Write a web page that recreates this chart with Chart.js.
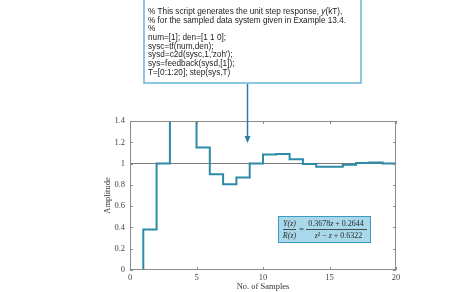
<!DOCTYPE html>
<html>
<head>
<meta charset="utf-8">
<script src="https://cdn.jsdelivr.net/npm/chart.js@4.4.1/dist/chart.umd.min.js"></script>
<style>
  html, body { margin: 0; padding: 0; background: #fff; }
  #wrap { width: 474px; height: 292px; position: relative; }
</style>
</head>
<body>
<div id="wrap"><canvas id="stepChart"></canvas></div>
<script>
// sample index k and step response y(kT)
const samples = [0, 1, 2, 3, 4, 5, 6, 7, 8, 9, 10, 11, 12, 13, 14, 15, 16, 17, 18, 19, 20];
const amplitude = [0, 0.38, 1.0, 1.4, 1.4, 1.15, 0.9, 0.805, 0.87, 1.0, 1.085, 1.09, 1.04, 0.995, 0.97, 0.97, 0.99, 1.005, 1.01, 1.0, 1.0];
const xTicks = [0, 5, 10, 15, 20];
const yTicks = [0, 0.2, 0.4, 0.6, 0.8, 1.0, 1.2, 1.4];
const scriptLines = [
  "% This script generates the unit step response, y(kT),",
  "% for the sampled data system given in Example 13.4.",
  "%",
  "num=[1]; den=[1 1 0];",
  "sysc=tf(num,den);",
  "sysd=c2d(sysc,1,'zoh');",
  "sys=feedback(sysd,[1]);",
  "T=[0:1:20]; step(sys,T)"
];
const numerator = [["0.3678", false], ["z", true], [" + 0.2644", false]];
const denominator = [["z", true], ["\u00B2 \u2212 ", false], ["z", true], [" + 0.6322", false]];

const lineColor = "#2b8ba8";
const frameColor = "#8c8c8c";
const serif = '"Liberation Serif", "DejaVu Serif", serif';
const sans = '"Liberation Sans", Arial, sans-serif';

function drawRich(ctx, segments, cx, y, size) {
  const fontFor = italic => `${italic ? "italic " : ""}${size}px ${serif}`;
  let total = 0;
  segments.forEach(([text, italic]) => {
    ctx.font = fontFor(italic);
    total += ctx.measureText(text).width;
  });
  let x = cx - total / 2;
  ctx.textAlign = "left";
  segments.forEach(([text, italic]) => {
    ctx.font = fontFor(italic);
    ctx.fillText(text, x, y);
    x += ctx.measureText(text).width;
  });
}

const notesPlugin = {
  id: "notes",
  afterDatasetsDraw(chart) {
    const { ctx, chartArea: a, scales } = chart;
    ctx.save();
    ctx.strokeStyle = frameColor;
    ctx.lineWidth = 1;
    ctx.strokeRect(Math.round(a.left) + 0.5, Math.round(a.top) + 0.5,
      Math.round(a.right - a.left) - 1, Math.round(a.bottom - a.top) - 1);
    // inward ticks on all sides
    ctx.beginPath();
    xTicks.forEach(v => {
      const px = Math.round(scales.x.getPixelForValue(v)) + 0.5;
      ctx.moveTo(px, a.bottom); ctx.lineTo(px, a.bottom - 3);
      ctx.moveTo(px, a.top); ctx.lineTo(px, a.top + 3);
    });
    yTicks.forEach(v => {
      const py = Math.round(scales.y.getPixelForValue(v)) + 0.5;
      ctx.moveTo(a.left, py); ctx.lineTo(a.left + 3, py);
      ctx.moveTo(a.right, py); ctx.lineTo(a.right - 3, py);
    });
    ctx.stroke();
    ctx.restore();
  },
  afterDraw(chart) {
    const { ctx } = chart;
    ctx.save();

    // script box
    ctx.fillStyle = "#fff";
    ctx.fillRect(144, -2, 217, 85);
    ctx.strokeStyle = "#66b6d6";
    ctx.lineWidth = 1.5;
    ctx.strokeRect(144, -2, 217, 85);

    ctx.fillStyle = "#222";
    ctx.textBaseline = "middle";
    ctx.textAlign = "left";
    ctx.font = `9px ${sans}`;
    const sx = 198 / ctx.measureText(scriptLines[1]).width;
    scriptLines.forEach((line, i) => {
      const y = 11.5 + i * 8.7;
      ctx.save();
      ctx.translate(148, y);
      ctx.scale(sx, 1);
      const k = line.indexOf("y(kT)");
      if (k >= 0) {
        const head = line.slice(0, k);
        ctx.font = `9px ${sans}`;
        ctx.fillText(head, 0, 0);
        let x = ctx.measureText(head).width;
        ctx.font = `italic 9px ${sans}`;
        ctx.fillText("y", x, 0);
        x += ctx.measureText("y").width;
        ctx.font = `9px ${sans}`;
        ctx.fillText(line.slice(k + 1), x, 0);
      } else {
        ctx.font = `9px ${sans}`;
        ctx.fillText(line, 0, 0);
      }
      ctx.restore();
    });

    // arrow
    ctx.strokeStyle = "#2a7ea6";
    ctx.fillStyle = "#2a7ea6";
    ctx.lineWidth = 1.5;
    ctx.beginPath();
    ctx.moveTo(247.5, 84);
    ctx.lineTo(247.5, 137);
    ctx.stroke();
    ctx.beginPath();
    ctx.moveTo(244.5, 136);
    ctx.lineTo(250.5, 136);
    ctx.lineTo(247.5, 143);
    ctx.closePath();
    ctx.fill();

    // transfer function box
    ctx.fillStyle = "#a9d8ea";
    ctx.fillRect(278.5, 216.5, 92, 26);
    ctx.strokeStyle = "#3a9cc4";
    ctx.lineWidth = 1;
    ctx.strokeRect(278.5, 216.5, 92, 26);

    ctx.fillStyle = "#2a2a2a";
    ctx.strokeStyle = "#2a2a2a";
    ctx.textBaseline = "middle";
    ctx.textAlign = "center";
    ctx.font = `italic 8px ${serif}`;
    ctx.fillText("Y(z)", 289.5, 224);
    ctx.fillText("R(z)", 289.5, 236);
    ctx.font = `8px ${serif}`;
    ctx.fillText("=", 301.5, 229.5);
    drawRich(ctx, numerator, 336, 224, 8);
    drawRich(ctx, denominator, 338.5, 236, 8);
    ctx.lineWidth = 0.8;
    ctx.beginPath();
    ctx.moveTo(283, 229.5); ctx.lineTo(296, 229.5);
    ctx.moveTo(306, 229.5); ctx.lineTo(367, 229.5);
    ctx.stroke();

    ctx.restore();
  }
};

new Chart(document.getElementById("stepChart").getContext("2d"), {
  type: "line",
  data: {
    datasets: [{
      label: "Step response",
      data: samples.map((k, i) => ({ x: k, y: amplitude[i] })),
      borderColor: lineColor,
      borderWidth: 2,
      pointRadius: 0,
      stepped: true,
      fill: false
    }]
  },
  options: {
    responsive: true,
    maintainAspectRatio: false,
    animation: false,
    layout: { padding: { top: 121, right: 78, left: 0, bottom: 0 } },
    scales: {
      x: {
        type: "linear",
        min: 0,
        max: 20,
        afterBuildTicks: scale => { scale.ticks = xTicks.map(value => ({ value })); },
        afterFit: scale => { scale.height = 22; },
        grid: { display: false, drawTicks: false },
        border: { display: false },
        ticks: {
          padding: 3,
          maxRotation: 0,
          color: "#444",
          font: { family: serif, size: 8.5 }
        },
        title: {
          display: true,
          text: "No. of Samples",
          color: "#333",
          font: { family: serif, size: 8.5, lineHeight: 1.2 },
          padding: { top: 0, bottom: 0 }
        }
      },
      y: {
        min: 0,
        max: 1.4,
        afterBuildTicks: scale => { scale.ticks = yTicks.map(value => ({ value })); },
        afterFit: scale => { scale.width = 130; },
        grid: {
          drawTicks: false,
          lineWidth: 1,
          color: ctx => (ctx.tick && Math.abs(ctx.tick.value - 1) < 1e-9 ? "#7a7a7a" : "rgba(0,0,0,0)")
        },
        border: { display: false },
        ticks: {
          padding: 5,
          color: "#444",
          font: { family: serif, size: 8.5 },
          callback: value => String(Math.round(value * 10) / 10)
        },
        title: {
          display: true,
          text: "Amplitude",
          color: "#333",
          font: { family: serif, size: 8.5, lineHeight: 1.2 },
          padding: { top: 103, bottom: 0 }
        }
      }
    },
    plugins: {
      legend: { display: false },
      tooltip: { enabled: false }
    }
  },
  plugins: [notesPlugin]
});
</script>
</body>
</html>
